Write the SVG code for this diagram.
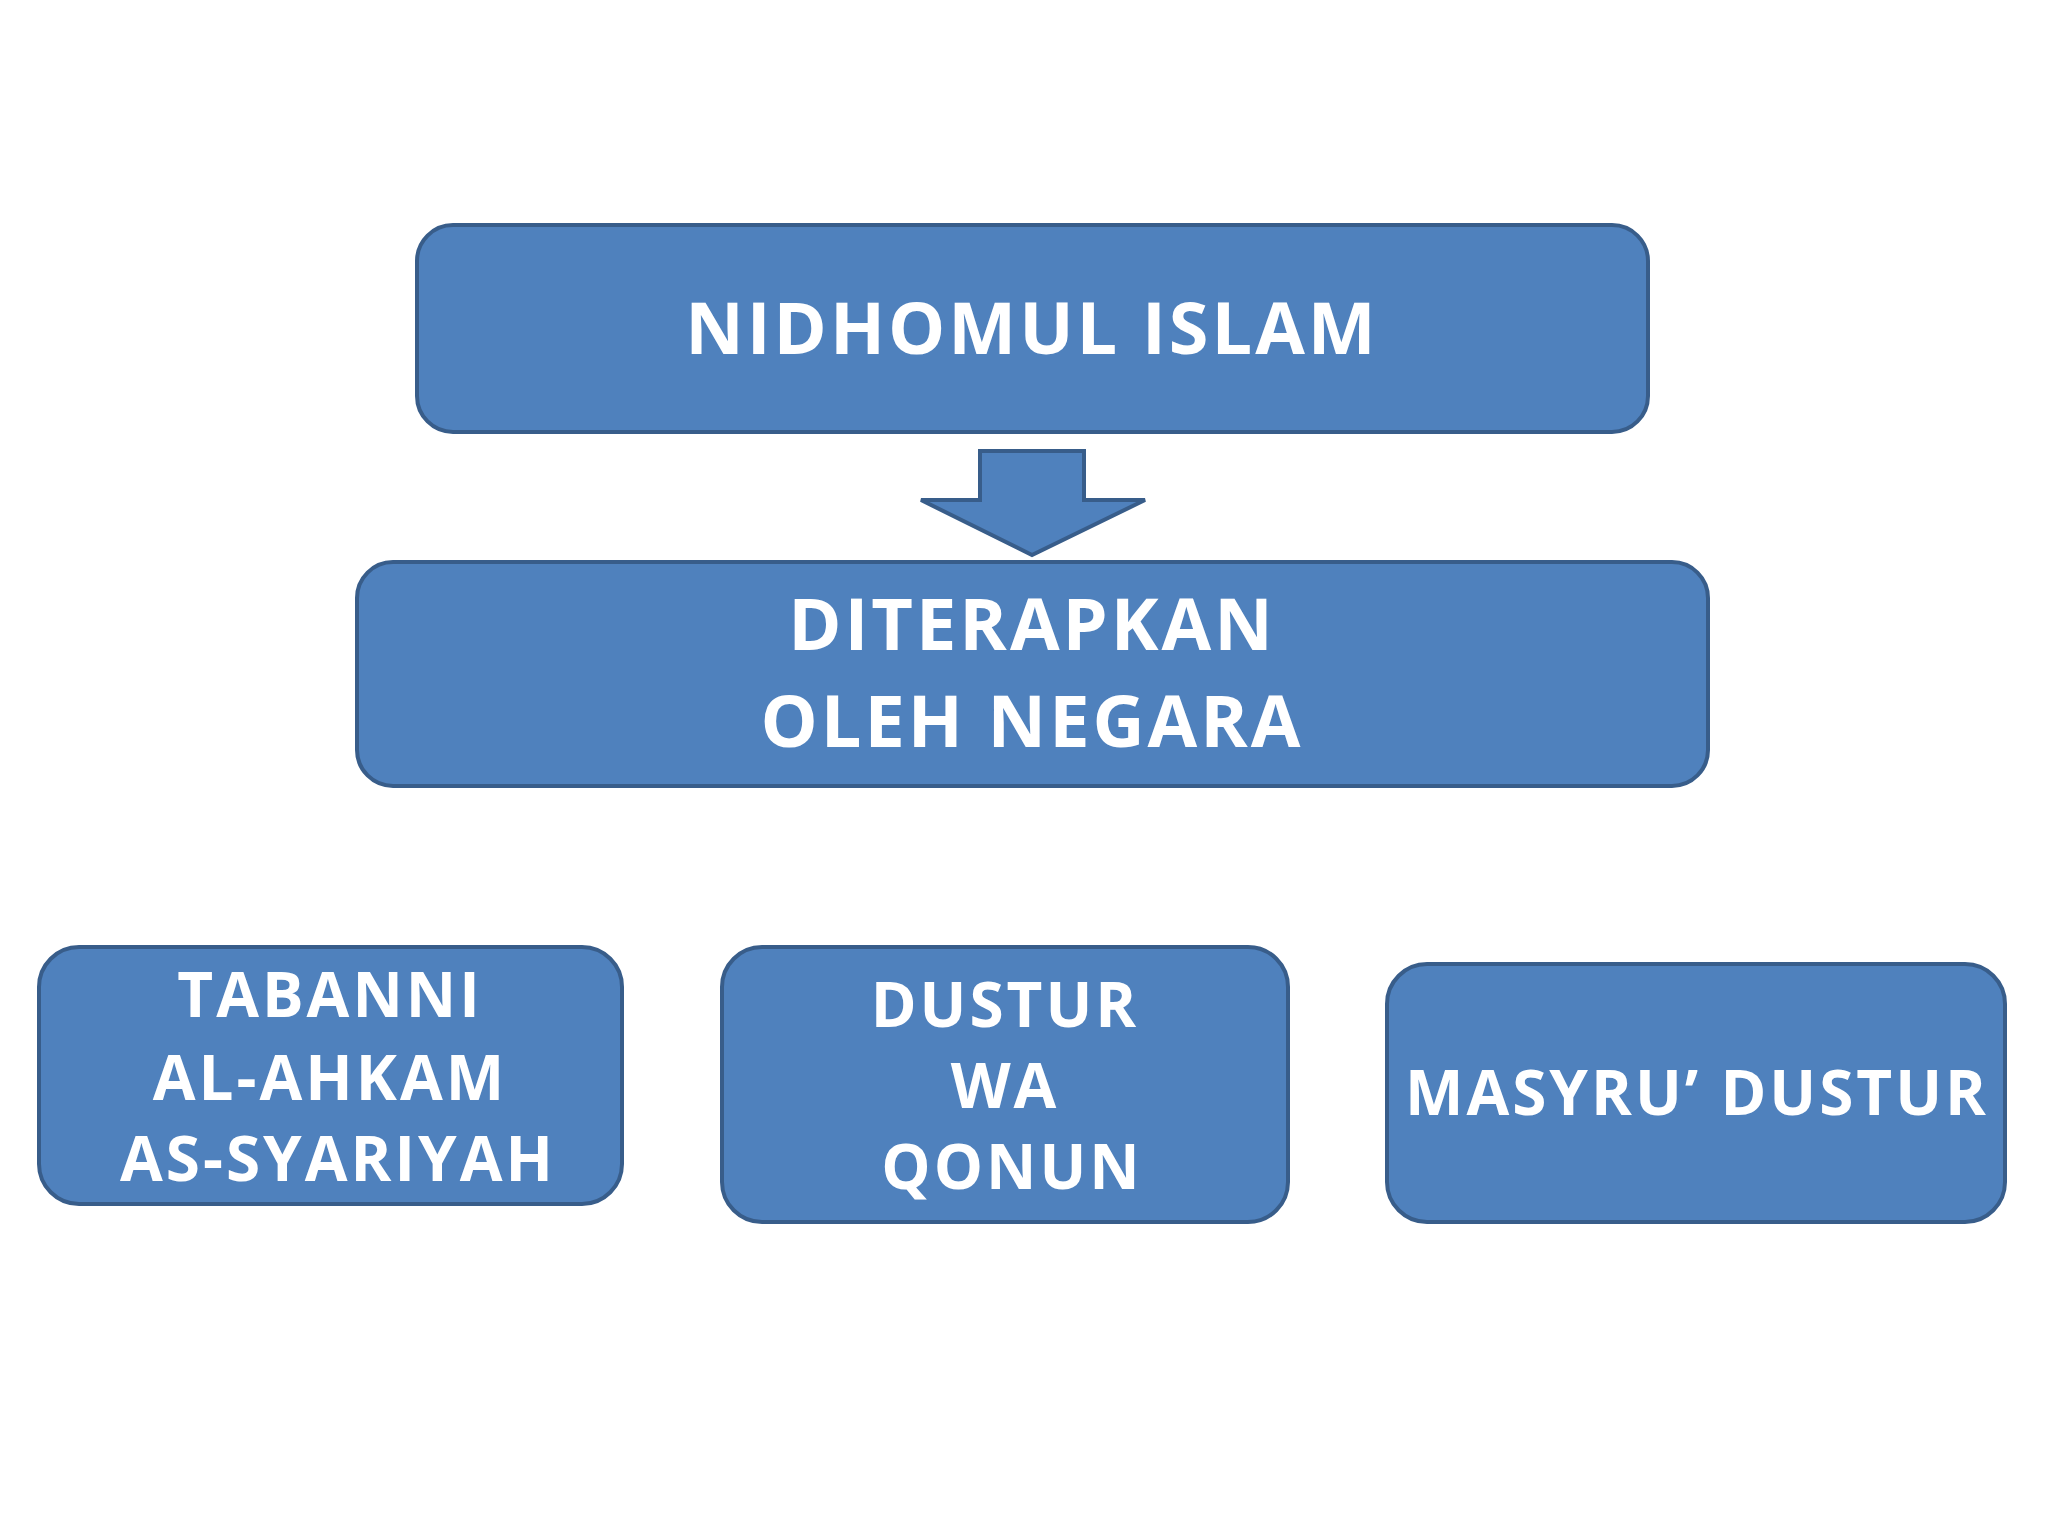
<svg xmlns="http://www.w3.org/2000/svg" width="2048" height="1536" viewBox="0 0 2048 1536">
<style>
.b{fill:#4F81BD;stroke:#385D8A;stroke-width:4}
.t{fill:#fff;font-family:"Open Sans","Liberation Sans",sans-serif;font-weight:bold;text-anchor:middle;letter-spacing:3px}
</style>
<rect width="2048" height="1536" fill="#fff"/>
<g id="n1"><rect class="b" x="417" y="225" width="1231" height="207" rx="36"/><text class="t" x="1032" y="354" font-size="72">NIDHOMUL  ISLAM</text></g>
<g id="connectors"><path class="b" d="M980 451H1084V500H1145L1032 555L921 500H980Z"/></g>
<g id="n2"><rect class="b" x="357" y="562" width="1351" height="224" rx="36"/><text class="t" x="1032" y="650" font-size="72">DITERAPKAN</text><text class="t" x="1032" y="747" font-size="72">OLEH  NEGARA</text></g>
<g id="n3"><rect class="b" x="39" y="947" width="583" height="257" rx="40"/><text class="t" x="330" y="1017" font-size="62">TABANNI</text><text class="t" x="330" y="1100" font-size="62">AL-AHKAM</text><text class="t" x="338" y="1181" font-size="62">AS-SYARIYAH</text></g>
<g id="n4"><rect class="b" x="722" y="947" width="566" height="275" rx="40"/><text class="t" x="1005" y="1027" font-size="62">DUSTUR</text><text class="t" x="1005" y="1108" font-size="62">WA</text><text class="t" x="1012" y="1189" font-size="62">QONUN</text></g>
<g id="n5"><rect class="b" x="1387" y="964" width="618" height="258" rx="40"/><text class="t" x="1697" y="1115" font-size="62">MASYRU’ DUSTUR</text></g>
</svg>
